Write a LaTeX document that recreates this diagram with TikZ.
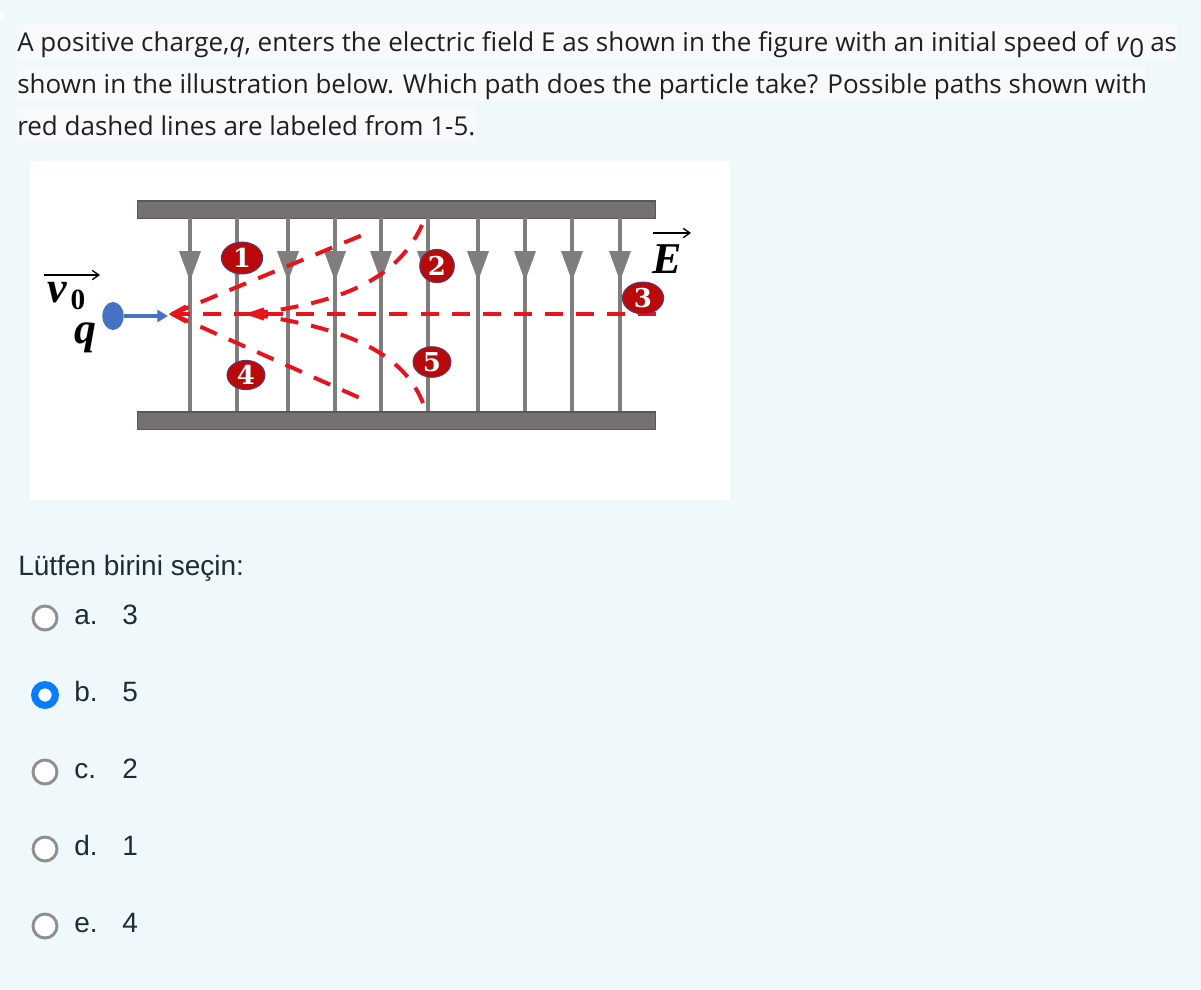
\documentclass[tikz,border=0pt]{standalone}
\usepackage{fontspec}
\setmainfont{Liberation Sans}
\newfontfamily\qfont{Open Sans}
\newfontfamily\mfont{Liberation Serif}
\newfontfamily\bfont{DejaVu Serif}
\usetikzlibrary{shapes.geometric,arrows.meta,calc}
\definecolor{pagebg}{HTML}{EFF8FB}
\definecolor{hl}{HTML}{F8F9FA}
\definecolor{plategray}{HTML}{767171}
\definecolor{plateedge}{HTML}{595757}
\definecolor{fieldgray}{HTML}{807D7D}
\definecolor{dashred}{HTML}{E8141C}
\definecolor{badgered}{HTML}{B80A0A}
\definecolor{badgeedge}{HTML}{5A3A70}
\definecolor{chargeblue}{HTML}{4472C4}
\definecolor{ink}{HTML}{1D2D35}
\definecolor{radiogray}{HTML}{8E8E93}
\definecolor{radioblue}{HTML}{0A7CFF}
\tikzset{
  x=0.75pt,y=-0.75pt,
  qtext/.style={anchor=base west,inner sep=0pt,font=\qfont\fontsize{19.5pt}{24pt}\selectfont,text=black!88},
  opttext/.style={anchor=base west,inner sep=0pt,font=\fontsize{21pt}{24pt}\selectfont,text=ink},
  plate/.style={draw=plateedge,line width=1pt,fill=plategray,rectangle,inner sep=0pt,minimum width=388.5pt,minimum height=13pt},
  fieldline/.style={draw=fieldgray,line width=2.3pt},
  fieldhead/.style={fill=fieldgray,draw=none},
  pathdash/.style={draw=dashred,line width=3pt,dash pattern=on 13.5pt off 9.8pt},
  badge/.style={ellipse,fill=badgered,draw=badgeedge,line width=0.7pt,inner sep=0pt,text=white,font=\bfont\bfseries\fontsize{19.5pt}{20pt}\selectfont},
  radio/.style={circle,draw=radiogray,line width=2.2pt,fill=white,minimum size=18pt,inner sep=0pt},
  radiosel/.style={circle,draw=radioblue,line width=5.4pt,fill=white,minimum size=15.5pt,inner sep=0pt},
  mlabel/.style={inner sep=0pt,font=\mfont\bfseries\itshape\fontsize{33pt}{33pt}\selectfont,text=black},
}
\begin{document}
\begin{tikzpicture}
\useasboundingbox (0,0) rectangle (1201,989);
\fill[pagebg] (0,0) rectangle (1201,989);
\fill[white] (0,17) circle (4);
% question
\fill[hl] (17,23) rectangle (1177,59);
\fill[hl] (17,65) rectangle (1145,101);
\fill[hl] (17,107) rectangle (475,143);
\node[qtext] (l1) at (17,51) {A positive charge,\textit{q}, enters the electric field E as shown in the figure with an initial speed of};
\node[qtext] (vq) at (1116,51) {\textit{v}};
\node[qtext] (vsub) at (1129,57) {0};
\node[qtext] (as) at (1150,51) {as};
\node[qtext] (l2) at (17,93) {shown in the illustration below. Which path does the particle take? Possible paths shown with};
\node[qtext] (l3) at (17,135) {red dashed lines are labeled from 1-5.};
% figure
\fill[white] (30,161) rectangle (730,500);
\node[plate] (top) at (396.5,209.5) {};
\node[plate] (bot) at (396.5,420.5) {};
\foreach \n/\xx in {a/190,b/237,c/288,d/335,e/381,f/428,g/478,h/525,i/572,j/620}{
  \coordinate (t\n) at (\xx,218);
  \coordinate (b\n) at (\xx,411);
  \draw[fieldline] (t\n) -- (b\n);
  \fill[fieldhead] (\xx-11,251) -- (\xx+11,251) -- (\xx,281) -- cycle;
}
% charge
\node[ellipse,fill=chargeblue,inner sep=0pt,minimum width=16pt,minimum height=21pt] (charge) at (113,316) {};
\coordinate (tip) at (168,316);
\draw[chargeblue,line width=2.4pt,-{Triangle[length=8pt,width=9pt]}] (charge.east) -- (tip);
% paths
\coordinate (o) at (172,314);
\coordinate (o2) at (250,314);
\coordinate (e1) at (365,234);
\coordinate (e3) at (661,314);
\coordinate (e4) at (360,398);
\coordinate (e2) at (422,225);
\coordinate (e5) at (423,403);
\draw[pathdash] (o) -- (e1);
\draw[pathdash] (o) -- (e3);
\draw[pathdash] (o) -- (e4);
\draw[pathdash] (o2) .. controls (330,304) and (395,285) .. (e2);
\draw[pathdash] (o2) .. controls (330,326) and (400,345) .. (e5);
\draw[dashred,line width=2.4pt] ($(o)+(14,-8)$) -- (o) -- ($(o)+(14,8)$);
\draw[dashred,line width=2.4pt] ($(o2)+(14,-5)$) -- (o2) -- ($(o2)+(14,5)$);
% badges
\node[badge,minimum width=31pt,minimum height=24pt] (n1) at (242,258) {1};
\node[badge,minimum width=26pt,minimum height=25pt] (n2) at (437,266) {2};
\node[badge,minimum width=31pt,minimum height=24pt] (n3) at (643,298) {3};
\node[badge,minimum width=28.5pt,minimum height=22pt] (n4) at (246,375) {4};
\node[badge,minimum width=28.5pt,minimum height=23pt] (n5) at (432,362) {5};
% labels
\node[mlabel] (v) at (57,293) {\textit{v}};
\node[mlabel,font=\mfont\bfseries\fontsize{22pt}{22pt}\selectfont] (v0) at (78,300) {0};
\node[mlabel] (q) at (85,338) {q};
\node[mlabel] (E) at (667,259) {E};
\coordinate (va) at (44,275);
\coordinate (vb) at (100,275);
\coordinate (ea) at (653,233);
\coordinate (eb) at (691,233);
\draw[line width=1pt,-{Straight Barb[length=5pt,width=7pt]}] (va) -- (vb);
\draw[line width=1pt,-{Straight Barb[length=5pt,width=7pt]}] (ea) -- (eb);
% options
\node[opttext] (pick) at (18,575) {Lütfen birini seçin:};
\node[radio] (ra) at (45,618) {};
\node[radiosel] (rb) at (45,695) {};
\node[radio] (rc) at (45,772) {};
\node[radio] (rd) at (45,849) {};
\node[radio] (re) at (45,926) {};
\node[opttext] (la) at (74,624) {a.};
\node[opttext] (va1) at (122,624) {3};
\node[opttext] (lb) at (74,701) {b.};
\node[opttext] (vb1) at (122,701) {5};
\node[opttext] (lc) at (74,778) {c.};
\node[opttext] (vc1) at (122,778) {2};
\node[opttext] (ld) at (74,855) {d.};
\node[opttext] (vd1) at (122,855) {1};
\node[opttext] (le) at (74,932) {e.};
\node[opttext] (ve1) at (122,932) {4};
\end{tikzpicture}
\end{document}
